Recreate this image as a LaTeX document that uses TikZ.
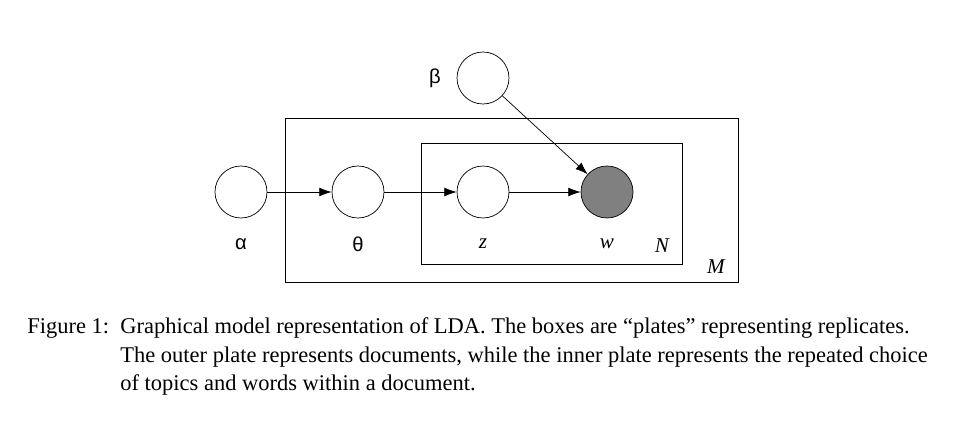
\documentclass[tikz,border=0pt]{standalone}
\usepackage{fontspec}
\setmainfont{Liberation Serif}
\newfontfamily\lsans{Liberation Sans}
\usetikzlibrary{arrows.meta}
\begin{document}
\begin{tikzpicture}[x=0.02cm,y=-0.02cm,
  var/.style={circle,draw,thin,minimum size=1.04cm,inner sep=0pt},
  obs/.style={var,fill=black!50},
  arr/.style={draw,thin,-{Latex[length=7pt,width=5pt]}},
  plate/.style={draw,thin},
  lab/.style={font=\lsans\fontsize{11.5}{13}\selectfont},
  ilab/.style={font=\itshape\fontsize{12}{14}\selectfont},
  captxt/.style={anchor=west,font=\fontsize{12.8}{15}\selectfont,inner sep=0pt}]
\useasboundingbox (0,0) rectangle (958,423);
\draw[plate] (285,118) rectangle (738,282);
\draw[plate] (421,143) rectangle (682,264);
\node[var] (alpha) at (241,192) {};
\node[var] (theta) at (358,192) {};
\node[var] (z) at (483,192) {};
\node[obs] (w) at (607,192) {};
\node[var] (beta) at (483,78) {};
\draw[arr] (alpha) -- (theta);
\draw[arr] (theta) -- (z);
\draw[arr] (z) -- (w);
\draw[arr] (beta) -- (w);
\node[lab] (lb) at (435,78) {β};
\node[lab] (la) at (241,244) {α};
\node[lab] (lt) at (358,244) {θ};
\node[ilab] (lz) at (483,244) {z};
\node[ilab] (lw) at (607,244) {w};
\node[ilab] (lN) at (662,246) {N};
\node[ilab] (lM) at (716,267) {M};
\node[captxt] (c0) at (27,328) {Figure 1:};
\node[captxt] (c1) at (120,328) {Graphical model representation of LDA. The boxes are “plates” representing replicates.};
\node[captxt] (c2) at (120,357) {The outer plate represents documents, while the inner plate represents the repeated choice};
\node[captxt] (c3) at (120,385) {of topics and words within a document.};
\end{tikzpicture}
\end{document}
